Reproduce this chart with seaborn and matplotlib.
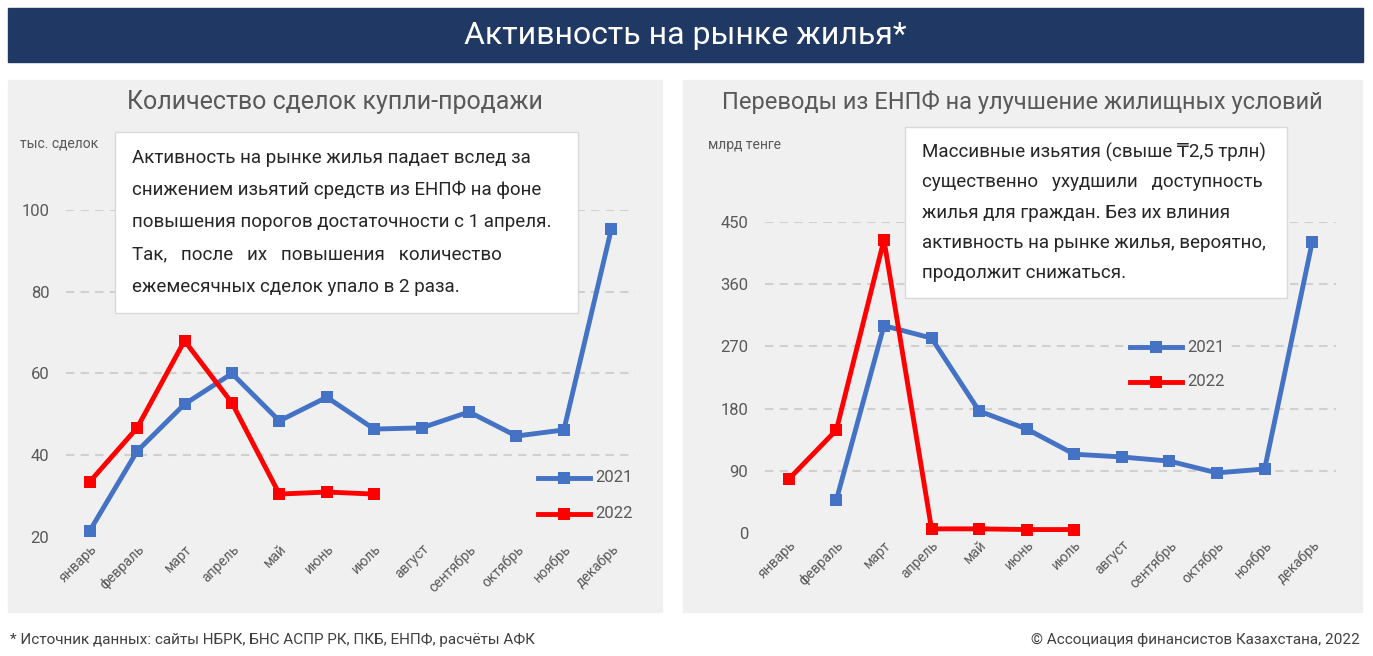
import matplotlib
matplotlib.use("Agg")
import matplotlib.pyplot as plt
from matplotlib.patches import Rectangle
import seaborn as sns
import pandas as pd

months = ["январь","февраль","март","апрель","май","июнь","июль","август","сентябрь","октябрь","ноябрь","декабрь"]
deals_2021 = [21.5,41,52.5,60,48.4,54.2,46.4,46.7,50.6,44.7,46.2,95.3]
deals_2022 = [33.5,46.7,68,52.8,30.5,31,30.5]
enpf_2021 = [None,47.8,300,282,176.5,150.5,114,110,104,87,92.6,421]
enpf_2022 = [78,149,424,6,6,5,5]

plt.rcParams["font.family"] = ["Roboto", "DejaVu Sans"]
W, H = 1373, 656
fig = plt.figure(figsize=(W/100, H/100), dpi=100)

def fx(x): return x / W
def fy(y): return 1 - y / H

fig.patches.append(Rectangle((fx(8), fy(62)), fx(1355), (62-8)/H, transform=fig.transFigure, color="#1f3864", zorder=-5))
fig.text(fx(685), fy(36), "Активность на рынке жилья*", color="white", fontsize=23, ha="center", va="center")
for x0, x1 in [(8, 662), (683, 1362)]:
    fig.patches.append(Rectangle((fx(x0), fy(612)), fx(x1-x0), (612-80)/H, transform=fig.transFigure, color="#f0f0f0", zorder=-5))

fig.text(fx(335), fy(102), "Количество сделок купли-продажи", color="#595959", fontsize=18, ha="center", va="center")
fig.text(fx(1022), fy(102), "Переводы из ЕНПФ на улучшение жилищных условий", color="#595959", fontsize=17, ha="center", va="center")
fig.text(fx(20), fy(143), "тыс. сделок", color="#595959", fontsize=10, va="center")
fig.text(fx(708), fy(145), "млрд тенге", color="#595959", fontsize=10, va="center")
fig.text(fx(10), fy(640), "* Источник данных: сайты НБРК, БНС АСПР РК, ПКБ, ЕНПФ, расчёты АФК", color="#404040", fontsize=11, va="center")
fig.text(fx(1360), fy(640), "© Ассоциация финансистов Казахстана, 2022", color="#404040", fontsize=11, va="center", ha="right")

def make_ax(left, right, top, bottom, ylo, yhi, ticks, s21, s22, legx, legy1, legy2):
    ax = fig.add_axes([fx(left), fy(bottom), fx(right-left), (bottom-top)/H])
    ax.set_zorder(2)
    ax.patch.set_alpha(0)
    d21 = pd.DataFrame({"m": range(12), "v": s21}).dropna()
    d22 = pd.DataFrame({"m": range(len(s22)), "v": s22})
    sns.lineplot(data=d21, x="m", y="v", ax=ax, color="#4472c4", lw=3.5, marker="s", markersize=9, markeredgewidth=0, clip_on=False)
    sns.lineplot(data=d22, x="m", y="v", ax=ax, color="#ff0000", lw=3.5, marker="s", markersize=9, markeredgewidth=0, clip_on=False)
    ax.set_xlim(-0.5, 11.5); ax.set_ylim(ylo, yhi)
    ax.set_yticks(ticks)
    ax.set_xticks(range(12)); ax.set_xticklabels(months, rotation=45, ha="right", rotation_mode="anchor")
    ax.tick_params(length=0, colors="#595959", labelsize=10)
    ax.tick_params(axis="y", labelsize=12, pad=12)
    for s in ax.spines.values(): s.set_visible(False)
    for t in ticks[1:]:
        ax.axhline(t, color="#d0d0d0", lw=1.5, ls=(0, (4, 3)), zorder=0)
    ax.set_xlabel(""); ax.set_ylabel("")
    bg = Rectangle((fx(legx-4), fy(legy2+14)), fx(100), (legy2-legy1+28)/H, transform=fig.transFigure, color="#f0f0f0", zorder=3)
    fig.add_artist(bg)
    for yy, c, lab in [(legy1, "#4472c4", "2021"), (legy2, "#ff0000", "2022")]:
        fig.add_artist(plt.Line2D([fx(legx), fx(legx+52)], [fy(yy), fy(yy)], color=c, lw=3.5, transform=fig.transFigure, zorder=4))
        fig.add_artist(plt.Line2D([fx(legx+26)], [fy(yy)], color=c, marker="s", markersize=9, markeredgewidth=0, transform=fig.transFigure, zorder=4))
        t = fig.text(fx(legx+57), fy(yy), lab, color="#595959", fontsize=12, va="center")
        t.set_zorder(4)
    return ax

make_ax(66, 635, 210, 537, 20, 100, [20, 40, 60, 80, 100], deals_2021, deals_2022, 538, 478, 514)
make_ax(765, 1336, 222, 533, 0, 450, [0, 90, 180, 270, 360, 450], enpf_2021, enpf_2022, 1130, 347, 382)

def box(x0, y0, x1, y1, lines, size):
    r = Rectangle((fx(x0), fy(y1)), fx(x1-x0), (y1-y0)/H, transform=fig.transFigure, facecolor="white", edgecolor="#d9d9d9", lw=1, zorder=5)
    fig.add_artist(r)
    n = len(lines)
    step = (y1 - y0 - 20) / n
    for i, ln in enumerate(lines):
        t = fig.text(fx(x0+17), fy(y0 + 10 + step*(i+0.5)), ln, fontsize=size, color="#262626", va="center")
        t.set_zorder(6)

box(115, 132, 578, 313, ["Активность на рынке жилья падает вслед за",
                         "снижением изьятий средств из ЕНПФ на фоне",
                         "повышения порогов достаточности с 1 апреля.",
                         "Так,   после   их   повышения   количество",
                         "ежемесячных сделок упало в 2 раза."], 13.5)
box(905, 127, 1287, 298, ["Массивные изьятия (свыше ₸2,5 трлн)",
                          "существенно   ухудшили   доступность",
                          "жилья для граждан. Без их влиния",
                          "активность на рынке жилья, вероятно,",
                          "продолжит снижаться."], 13.5)

fig.savefig("out.png", dpi=100)
